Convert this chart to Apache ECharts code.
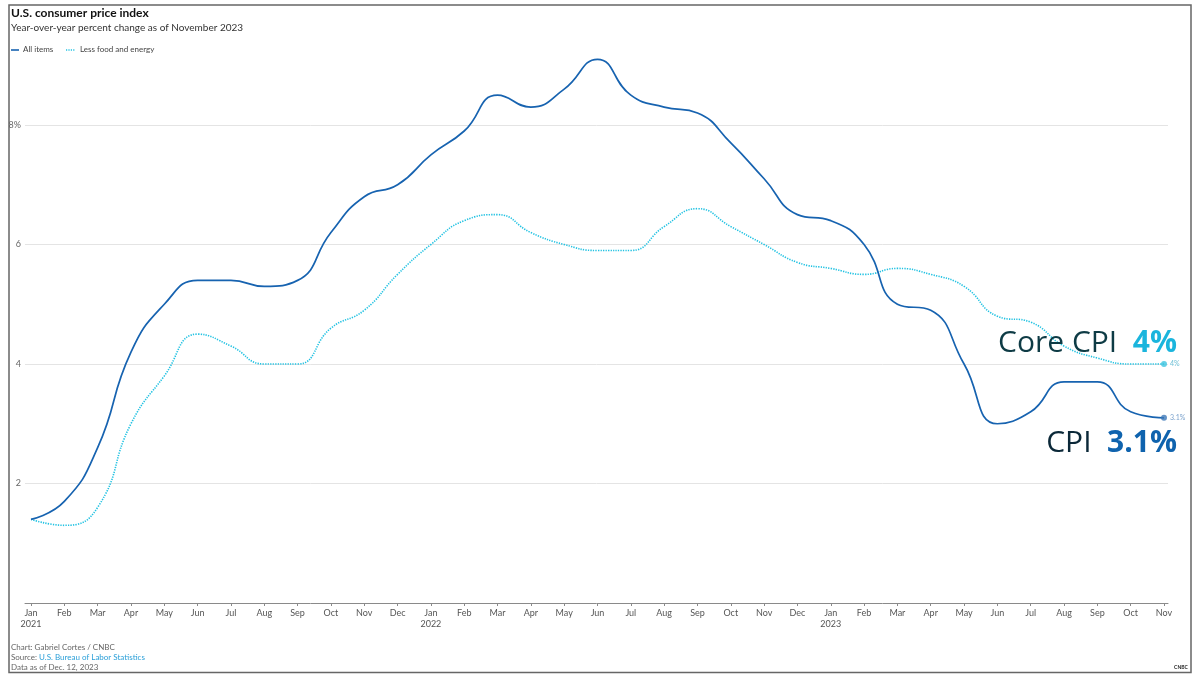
<!DOCTYPE html>
<html>
<head>
<meta charset="utf-8">
<script src="https://cdn.jsdelivr.net/npm/echarts@6/dist/echarts.min.js"></script>
<style>
html,body{margin:0;padding:0;background:#fff;}
#c{width:1200px;height:677px;}
</style>
</head>
<body>
<div id="c"></div>
<script>
const months = ['Jan\n2021','Feb','Mar','Apr','May','Jun','Jul','Aug','Sep','Oct','Nov','Dec',
  'Jan\n2022','Feb','Mar','Apr','May','Jun','Jul','Aug','Sep','Oct','Nov','Dec',
  'Jan\n2023','Feb','Mar','Apr','May','Jun','Jul','Aug','Sep','Oct','Nov'];
const allItems = [1.4,1.7,2.6,4.2,5.0,5.4,5.4,5.3,5.4,6.2,6.8,7.0,
  7.5,7.9,8.5,8.3,8.6,9.1,8.5,8.3,8.2,7.7,7.1,6.5,
  6.4,6.0,5.0,4.9,4.0,3.0,3.2,3.7,3.7,3.2,3.1];
const core = [1.4,1.3,1.6,3.0,3.8,4.5,4.3,4.0,4.0,4.6,4.9,5.5,
  6.0,6.4,6.5,6.2,6.0,5.9,5.9,6.3,6.6,6.3,6.0,5.7,
  5.6,5.5,5.6,5.5,5.3,4.8,4.7,4.3,4.1,4.0,4.0];
const yTicks = [2,4,6,8];

const FONT = 'Lato, "Open Sans", sans-serif';
const C_ALL = '#1763b0';
const C_CORE = '#22c2e2';
const last = months.length - 1;

const chart = echarts.init(document.getElementById('c'), null, {renderer:'canvas'});
chart.setOption({
  animation: false,
  backgroundColor: '#fff',
  textStyle: {fontFamily: FONT},
  grid: [
    {left: 25, right: 32, top: 35.4, bottom: 74},
    {left: 31, right: 36, top: 35.4, bottom: 74}
  ],
  xAxis: [
    {gridIndex: 0, type: 'value', min: 0, max: 1, show: true,
     axisLine: {show: true, lineStyle: {color: '#8a8a8a', width: 1}},
     axisTick: {show: false}, axisLabel: {show: false}, splitLine: {show: false}},
    {gridIndex: 1, type: 'category', data: months, boundaryGap: false,
     axisLine: {show: false},
     axisTick: {show: true, interval: 0, length: 3, lineStyle: {color: '#8a8a8a'}},
     axisLabel: {interval: 0, margin: 5, fontSize: 9, lineHeight: 11, color: '#555', fontFamily: FONT},
     splitLine: {show: false}}
  ],
  yAxis: [
    {gridIndex: 0, type: 'value', min: 0, max: 9.5, interval: 2,
     axisLine: {show: false}, axisTick: {show: false},
     axisLabel: {margin: 4, fontSize: 9, color: '#666', fontFamily: FONT,
       formatter: v => yTicks.indexOf(v) < 0 ? '' : (v === 8 ? v + '%' : String(v))},
     splitLine: {show: true, showMinLine: false, showMaxLine: false, lineStyle: {color: '#e4e4e4', width: 1}}},
    {gridIndex: 1, type: 'value', min: 0, max: 9.5, show: false, splitLine: {show: false}}
  ],
  series: [
    {name: 'All items', type: 'line', xAxisIndex: 1, yAxisIndex: 1, data: allItems,
     smooth: 0.5, symbol: 'none',
     lineStyle: {color: C_ALL, width: 1.7}, z: 3},
    {name: 'Less food and energy', type: 'line', xAxisIndex: 1, yAxisIndex: 1, data: core,
     smooth: 0.5, symbol: 'none',
     lineStyle: {color: C_CORE, width: 1.6, type: [1.3, 1.2]}, z: 2},
    {type: 'scatter', xAxisIndex: 1, yAxisIndex: 1, symbolSize: 6,
     data: [[last, allItems[last]]], itemStyle: {color: '#3d78b8'},
     label: {show: true, position: 'right', distance: 3, fontSize: 7, color: '#5b8cc0',
       formatter: p => p.value[1] + '%'}, z: 4},
    {type: 'scatter', xAxisIndex: 1, yAxisIndex: 1, symbolSize: 6,
     data: [[last, core[last]]], itemStyle: {color: '#3cc4e0'},
     label: {show: true, position: 'right', distance: 3, fontSize: 7, color: '#4ab0cc',
       formatter: p => p.value[1] + '%'}, z: 4}
  ],
  graphic: [
    {type: 'rect', shape: {x: 9, y: 5, width: 1182, height: 667.5},
     style: {fill: 'none', stroke: '#666', lineWidth: 1.5}, silent: true, z: 100},
    {type: 'text', left: 11, top: 7,
     style: {text: 'U.S. consumer price index', fontSize: 12, fontWeight: 'bold', fill: '#111', fontFamily: FONT}},
    {type: 'text', left: 11, top: 23,
     style: {text: 'Year-over-year percent change as of November 2023', fontSize: 10, fill: '#333', fontFamily: FONT}},
    {type: 'line', shape: {x1: 11, y1: 50, x2: 19, y2: 50}, style: {stroke: C_ALL, lineWidth: 1.6}},
    {type: 'text', left: 23, top: 45.5,
     style: {text: 'All items', fontSize: 8, fill: '#444', fontFamily: FONT}},
    {type: 'line', shape: {x1: 66, y1: 50, x2: 75, y2: 50}, style: {stroke: C_CORE, lineWidth: 1.6, lineDash: [1.2, 1.2]}},
    {type: 'text', left: 80, top: 45.5,
     style: {text: 'Less food and energy', fontSize: 8, fill: '#444', fontFamily: FONT}},
    {type: 'text', left: 11, top: 643,
     style: {text: 'Chart: Gabriel Cortes / CNBC', fontSize: 8, fill: '#666', fontFamily: FONT}},
    {type: 'text', left: 11, top: 653,
     style: {text: '{a|Source: }{b|U.S. Bureau of Labor Statistics}', fontSize: 8, fontFamily: FONT,
       rich: {a: {fontSize: 8, fill: '#666', fontFamily: FONT}, b: {fontSize: 8, fill: '#2a9fd8', fontFamily: FONT}}}},
    {type: 'text', left: 11, top: 663,
     style: {text: 'Data as of Dec. 12, 2023', fontSize: 8, fill: '#666', fontFamily: FONT}},
    {type: 'text', x: 1177, y: 343,
     style: {text: '{a|Core CPI  }{b|4%}', align: 'right', verticalAlign: 'middle',
       rich: {a: {fontSize: 30, fill: '#0e3b45', fontFamily: '"Open Sans", sans-serif'},
              b: {fontSize: 30, fill: '#1bb5dd', fontWeight: 'bold', fontFamily: '"Open Sans", sans-serif'}}}, z: 50},
    {type: 'text', x: 1177, y: 443,
     style: {text: '{a|CPI  }{b|3.1%}', align: 'right', verticalAlign: 'middle',
       rich: {a: {fontSize: 30, fill: '#0b2838', fontFamily: '"Open Sans", sans-serif'},
              b: {fontSize: 30, fill: '#0f63ae', fontWeight: 'bold', fontFamily: '"Open Sans", sans-serif'}}}, z: 50},
    {type: 'text', x: 1181, y: 667,
     style: {text: 'CNBC', align: 'center', verticalAlign: 'middle', fontSize: 5, fontWeight: 'bold', fill: '#222', fontFamily: FONT}}
  ]
});
</script>
</body>
</html>
